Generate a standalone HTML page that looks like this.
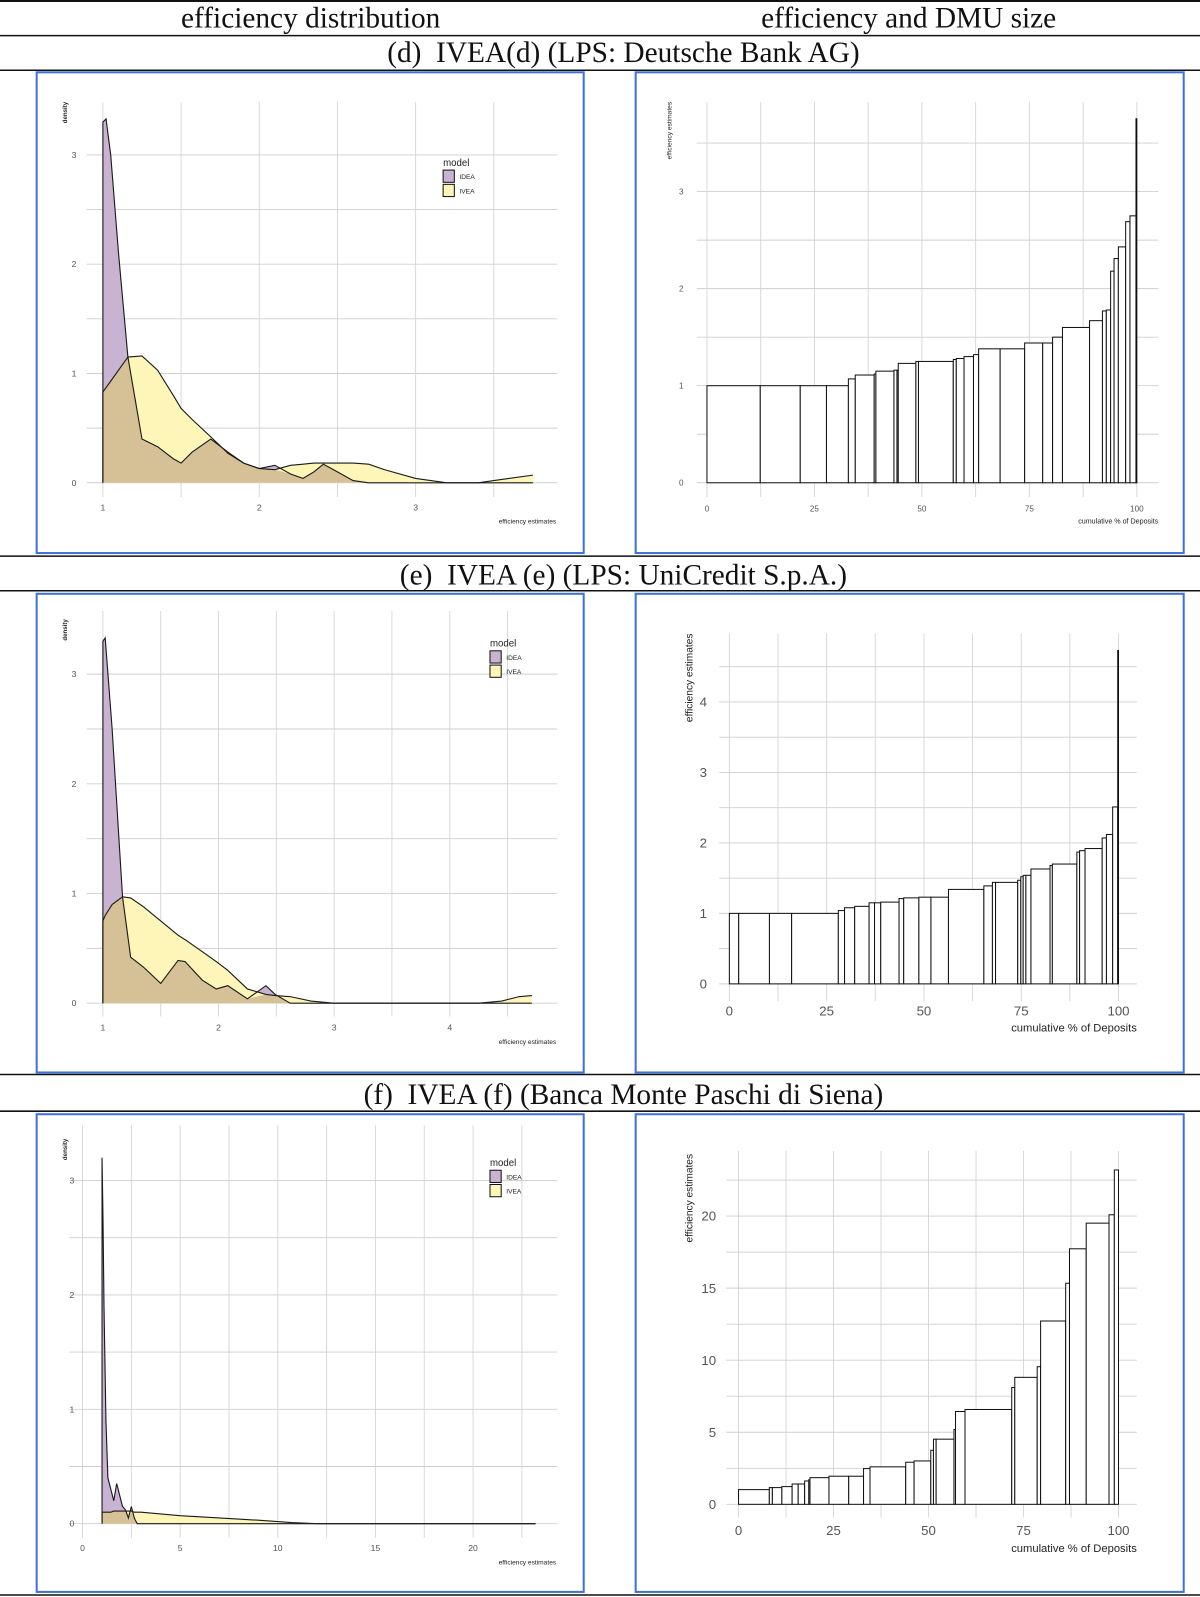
<!DOCTYPE html>
<html><head><meta charset="utf-8"><title>Efficiency distributions and DMU size</title>
<style>
html,body{margin:0;padding:0;background:#fff;}
svg{display:block;}
text{font-family:"Liberation Sans",sans-serif;}
.serif{font-family:"Liberation Serif",serif;fill:#111;}
</style></head>
<body>
<svg id="fig" xmlns="http://www.w3.org/2000/svg" width="1200" height="1597" viewBox="0 0 1178 1568" preserveAspectRatio="none">
  <rect x="0" y="0" width="1178" height="1568" fill="#fff"/>
  <line x1="0" y1="1" x2="1178" y2="1" stroke="#111" stroke-width="2"/>
  <text class="serif" x="305" y="27" font-size="28.8" text-anchor="middle">efficiency distribution</text>
  <text class="serif" x="892" y="27" font-size="28.8" text-anchor="middle">efficiency and DMU size</text>
  <line x1="0" y1="35" x2="1178" y2="35" stroke="#111" stroke-width="1.5"/>
  <text class="serif" x="612" y="61" font-size="28.8" text-anchor="middle">(d)&#160; IVEA(d) (LPS: Deutsche Bank AG)</text>
  <line x1="0" y1="69" x2="1178" y2="69" stroke="#111" stroke-width="1.5"/>
  <line x1="0" y1="546" x2="1178" y2="546" stroke="#111" stroke-width="1.5"/>
  <text class="serif" x="612" y="574" font-size="28.8" text-anchor="middle">(e)&#160; IVEA (e) (LPS: UniCredit S.p.A.)</text>
  <line x1="0" y1="580" x2="1178" y2="580" stroke="#111" stroke-width="1.5"/>
  <line x1="0" y1="1055" x2="1178" y2="1055" stroke="#111" stroke-width="1.5"/>
  <text class="serif" x="612" y="1084" font-size="28.8" text-anchor="middle">(f)&#160; IVEA (f) (Banca Monte Paschi di Siena)</text>
  <line x1="0" y1="1091" x2="1178" y2="1091" stroke="#111" stroke-width="1.5"/>
  <line x1="0" y1="1566" x2="1178" y2="1566" stroke="#111" stroke-width="1.5"/>
</svg>
<script>
// ---- density data (efficiency distribution) ----
const dDensX = [1,1.02,1.05,1.1,1.16,1.25,1.35,1.45,1.5,1.57,1.69,1.8,1.9,2.0,2.1,2.2,2.28,2.35,2.41,2.5,2.6,2.7,2.8,3.0,3.2,3.4,3.55,3.75];
const dIDEA = [3.30,3.33,3.0,2.1,1.15,0.4,0.33,0.22,0.18,0.28,0.40,0.28,0.18,0.13,0.16,0.08,0.04,0.1,0.17,0.1,0.02,0,0,0,0,0,0,0];
const dIVEA = [0.83,0.87,0.93,1.03,1.15,1.16,1.03,0.8,0.68,0.58,0.42,0.27,0.18,0.13,0.12,0.16,0.17,0.18,0.18,0.18,0.18,0.17,0.12,0.04,0.0,0.0,0.03,0.07];

const eDensX = [1,1.02,1.08,1.17,1.24,1.35,1.5,1.65,1.71,1.86,1.98,2.08,2.25,2.41,2.49,2.62,2.8,3.0,4.25,4.45,4.6,4.71];
const eIDEA = [3.3,3.33,2.5,0.97,0.42,0.33,0.18,0.39,0.38,0.21,0.13,0.16,0.04,0.16,0.08,0,0,0,0,0,0,0];
const eIVEA = [0.75,0.8,0.9,0.97,0.96,0.88,0.75,0.62,0.58,0.47,0.38,0.3,0.13,0.08,0.07,0.06,0.02,0,0,0.02,0.06,0.07];

const fDensX = [1,1.05,1.1,1.2,1.3,1.45,1.6,1.75,1.9,2.05,2.2,2.35,2.5,2.65,2.8,3,5,7,9,10.7,12,23.2];
const fIDEA = [3.2,2.65,1.9,0.9,0.4,0.3,0.2,0.35,0.25,0.15,0.12,0.05,0.15,0.05,0,0,0,0,0,0,0,0];
const fIVEA = [0.1,0.1,0.1,0.1,0.1,0.1,0.11,0.11,0.11,0.11,0.11,0.11,0.11,0.1,0.1,0.1,0.07,0.05,0.03,0.01,0,0];

const dDensXTicks = [1,2,3];
const eDensXTicks = [1,2,3,4];
const fDensXTicks = [0,5,10,15,20];
const densYTicks = [0,1,2,3];
const legendLabels = ["IDEA","IVEA"];

// ---- DMU size data (cumulative % of deposits vs efficiency) ----
const dRightBreaks = [0,12.4,21.7,27.8,32.9,34.5,38.9,39.3,43.5,44.2,44.5,48.6,49.2,57.3,58.0,59.8,62.0,63.2,68.2,73.9,78.1,80.4,82.7,89.0,92.0,92.9,93.9,94.7,95.7,97.4,98.4,99.8,100];
const dRightHeights = [1,1,1,1,1.07,1.11,1.12,1.15,1.16,1.16,1.23,1.25,1.25,1.27,1.28,1.30,1.32,1.38,1.38,1.44,1.44,1.50,1.60,1.67,1.77,1.78,2.18,2.31,2.43,2.69,2.75,3.75];
const eRightBreaks = [0,2.4,10.3,16.0,28.0,29.6,32.2,35.9,37.3,38.9,43.6,44.8,48.7,51.8,56.3,65.4,67.6,68.4,74.1,74.9,75.5,76.2,77.5,82.4,83.0,89.3,90.0,91.4,95.8,96.9,98.5,99.8,100];
const eRightHeights = [1,1,1,1,1.04,1.08,1.10,1.15,1.15,1.16,1.21,1.22,1.23,1.23,1.34,1.39,1.44,1.44,1.47,1.52,1.54,1.54,1.63,1.68,1.70,1.87,1.89,1.92,2.07,2.12,2.51,4.73];
const fRightBreaks = [0,8.1,8.9,11.4,14.1,15.7,17.4,18.5,18.8,23.8,29.0,32.9,34.6,44.0,46.2,50.6,51.3,52.0,56.7,57.1,59.6,71.9,72.7,78.6,79.5,86.1,87.1,91.5,97.5,98.9,100];
const fRightHeights = [1.02,1.16,1.16,1.23,1.41,1.41,1.62,1.71,1.85,1.95,1.95,2.48,2.60,2.92,3.01,3.75,4.52,4.52,5.19,6.44,6.58,8.11,8.81,9.55,12.72,15.34,17.73,19.51,20.09,23.2];
const pctXTicks = [0,25,50,75,100];
const dRightYTicks = [0,1,2,3];
const eRightYTicks = [0,1,2,3,4];
const fRightYTicks = [0,5,10,15,20];

const NS = 'http://www.w3.org/2000/svg';
const svg = document.getElementById('fig');
function mk(tag, attrs, parent){
  const e = document.createElementNS(NS, tag);
  for (const k in attrs) e.setAttribute(k, attrs[k]);
  parent.appendChild(e);
  return e;
}

function panelBox(x, y, w, h, name){
  const r = mk('rect', {x:x, y:y, width:w, height:h, fill:'none', stroke:'#3d72d9', 'stroke-width':2}, svg);
  
  
}

function grid(g, c, xMin, xMax, xStep, yMin, yMax, yStep){
  for (let v = xMin; v <= xMax + 1e-9; v += xStep){
    const l = mk('line', {x1:c.sx(v), x2:c.sx(v), y1:c.gy[0], y2:c.gy[1], stroke:'#d6d6d6', 'stroke-width':0.9}, g);
    
    
  }
  for (let v = yMin; v <= yMax + 1e-9; v += yStep){
    const l = mk('line', {x1:c.gx[0], x2:c.gx[1], y1:c.sy(v), y2:c.sy(v), stroke:'#cfcfcf', 'stroke-width':0.9}, g);
    
    
  }
}

function ticks(g, c, xt, yt, fs){
  xt.forEach(v => {
    const t = mk('text', {x:c.sx(v), y:c.xLabelY, 'font-size':fs, fill:'#555', 'text-anchor':'middle'}, g);
    t.textContent = v;
    
    
  });
  yt.forEach(v => {
    const t = mk('text', {x:c.yLabelX, y:c.sy(v) + fs*0.35, 'font-size':fs, fill:'#555', 'text-anchor':'end'}, g);
    t.textContent = v;
    
    
  });
}

function titles(g, c, xTitle, yTitle){
  const xt = mk('text', {x:c.xT[0], y:c.xT[1], 'font-size':c.xTfs, fill:'#222', 'text-anchor':'end'}, g);
  xt.textContent = xTitle;
  
  
  const yt = mk('text', {x:0, y:0, 'font-size':c.yTfs, fill:'#222', 'text-anchor':'end', 'font-weight':c.yTbold?'bold':'normal',
    transform:'translate(' + c.yT[0] + ',' + c.yT[1] + ') rotate(-90)'}, g);
  yt.textContent = yTitle;
  
  
}

function areaPath(c, xs, ys){
  let d = 'M' + c.sx(xs[0]) + ',' + c.sy(0);
  for (let i = 0; i < xs.length; i++) d += ' L' + c.sx(xs[i]).toFixed(2) + ',' + c.sy(ys[i]).toFixed(2);
  return d;
}

function densityChart(c, xs, idea, ivea, xt, name){
  const g = mk('g', {}, svg);
  
  
  grid(g, c, c.xg[0], c.xg[1], c.xg[2], 0, 3, 0.5);
  ticks(g, c, xt, densYTicks, 8.5);
  titles(g, c, 'efficiency estimates', 'density');
  const mins = idea.map((v, i) => Math.min(v, ivea[i]));
  const last = c.sx(xs[xs.length-1]);
  const base = ' L' + last + ',' + c.sy(0) + ' Z';
  const a1 = mk('path', {d:areaPath(c, xs, idea) + base, fill:'#c8b3d2'}, g);
  
  
  const a2 = mk('path', {d:areaPath(c, xs, ivea) + base, fill:'#fdf6b8'}, g);
  
  
  const a3 = mk('path', {d:areaPath(c, xs, mins) + base, fill:'#d6c197'}, g);
  
  
  const l1 = mk('path', {d:areaPath(c, xs, idea), fill:'none', stroke:'#1a1a1a', 'stroke-width':1.1}, g);
  
  
  const l2 = mk('path', {d:areaPath(c, xs, ivea), fill:'none', stroke:'#1a1a1a', 'stroke-width':1.1}, g);
  
  
  const lg = mk('g', {}, g);
  
  
  const lt = mk('text', {x:c.leg[0], y:c.leg[1], 'font-size':9.5, fill:'#222'}, lg);
  lt.textContent = 'model';
  
  
  const cols = ['#c8b3d2', '#fdf6b8'];
  legendLabels.forEach((lab, i) => {
    const k = mk('rect', {x:c.leg[0], y:c.leg[1] + 4 + i*14, width:11, height:12, fill:cols[i], stroke:'#111', 'stroke-width':1}, lg);
    
    
    const t = mk('text', {x:c.leg[0] + 16, y:c.leg[1] + 13 + i*14, 'font-size':6.5, fill:'#222'}, lg);
    t.textContent = lab;
    
    
  });
}

function sizeChart(c, breaks, heights, yt, yStep, yMax, tfs, name){
  const g = mk('g', {}, svg);
  
  
  grid(g, c, 0, 100, 12.5, 0, yMax, yStep);
  ticks(g, c, pctXTicks, yt, tfs);
  titles(g, c, 'cumulative % of Deposits', 'efficiency estimates');
  heights.forEach((h, i) => {
    const x0 = c.sx(breaks[i]), x1 = c.sx(breaks[i+1]);
    const r = mk('rect', {x:x0, y:c.sy(h), width:Math.max(x1 - x0, 0.3), height:c.sy(0) - c.sy(h), fill:'#fff', stroke:'#111', 'stroke-width':1}, g);
    
    
  });
}

function cfg(o){
  o.sx = v => o.ox + (v - o.xv0) * o.kx;
  o.sy = v => o.oy - v * o.ky;
  return o;
}

panelBox(36, 71, 537, 472, 'panel-d-distribution');
panelBox(624, 71, 538, 472, 'panel-d-size');
panelBox(36, 583, 537, 470, 'panel-e-distribution');
panelBox(624, 583, 538, 470, 'panel-e-size');
panelBox(36, 1094, 537, 469, 'panel-f-distribution');
panelBox(624, 1094, 538, 469, 'panel-f-size');

densityChart(cfg({ox:101, xv0:1, kx:153.5, oy:474, ky:107.3, gx:[85,547], gy:[100,488], xg:[1,3.5,0.5],
  xLabelY:501, yLabelX:75, xT:[546,514], xTfs:6.5, yT:[66,100], yTfs:6, yTbold:true, leg:[435,163]}),
  dDensX, dIDEA, dIVEA, dDensXTicks, 'chart-d-density');
densityChart(cfg({ox:101, xv0:1, kx:113.5, oy:985, ky:107.7, gx:[85,547], gy:[600,998], xg:[1,4.5,0.5],
  xLabelY:1012, yLabelX:75, xT:[546,1025], xTfs:6.5, yT:[66,608], yTfs:6, yTbold:true, leg:[481,635]}),
  eDensX, eIDEA, eIVEA, eDensXTicks, 'chart-e-density');
densityChart(cfg({ox:81, xv0:0, kx:19.17, oy:1496, ky:112.3, gx:[68,547], gy:[1105,1510], xg:[0,22.5,2.5],
  xLabelY:1523, yLabelX:73, xT:[546,1536], xTfs:6.5, yT:[66,1118], yTfs:6, yTbold:true, leg:[481,1145]}),
  fDensX, fIDEA, fIVEA, fDensXTicks, 'chart-f-density');

sizeChart(cfg({ox:694, xv0:0, kx:4.22, oy:474, ky:95.3, gx:[684,1137], gy:[100,488],
  xLabelY:502, yLabelX:671, xT:[1137,514], xTfs:7, yT:[659,100], yTfs:6.5}),
  dRightBreaks, dRightHeights, dRightYTicks, 0.5, 3.5, 8, 'chart-d-size');
sizeChart(cfg({ox:716, xv0:0, kx:3.82, oy:966, ky:69.2, gx:[706,1116], gy:[622,983],
  xLabelY:997, yLabelX:694, xT:[1116,1013], xTfs:11, yT:[680,622], yTfs:10}),
  eRightBreaks, eRightHeights, eRightYTicks, 0.5, 4.5, 13, 'chart-e-size');
sizeChart(cfg({ox:725, xv0:0, kx:3.73, oy:1477, ky:14.15, gx:[713,1116], gy:[1130,1490],
  xLabelY:1507, yLabelX:703, xT:[1116,1524], xTfs:11, yT:[680,1133], yTfs:10}),
  fRightBreaks, fRightHeights, fRightYTicks, 2.5, 22.5, 13, 'chart-f-size');
</script>
</body></html>
